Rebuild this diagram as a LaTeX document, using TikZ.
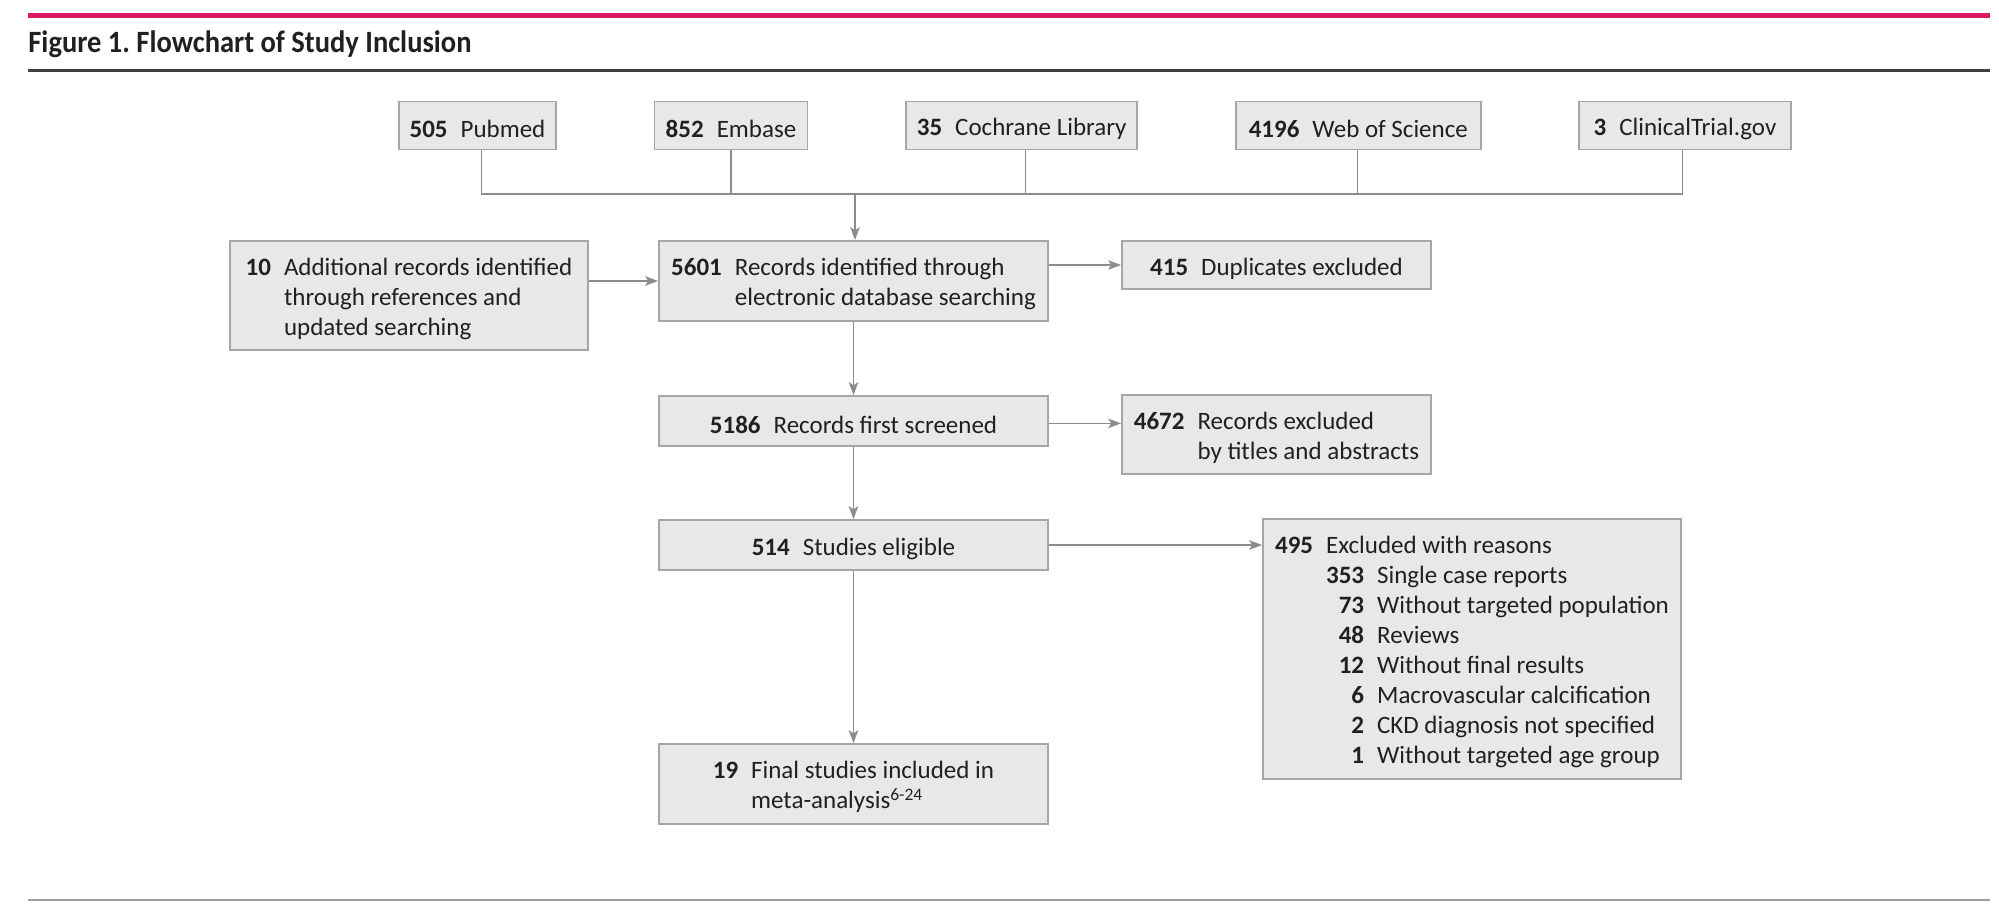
\documentclass[tikz,border=0pt]{standalone}
\usepackage{fontspec}
\setmainfont{Carlito}
\usetikzlibrary{arrows.meta}
\definecolor{jpink}{RGB}{218,26,99}
\definecolor{jdark}{RGB}{64,64,64}
\definecolor{jgrey}{RGB}{155,155,155}
\definecolor{boxfill}{RGB}{230,233,232}
\definecolor{boxline}{RGB}{165,167,167}
\definecolor{conncol}{RGB}{140,140,140}
\definecolor{txt}{RGB}{35,31,32}
\newcommand{\nb}[1]{\textbf{#1}\hspace{6.5pt}}
\newcommand{\dn}[1]{\raisebox{0pt}[\dimexpr\height+3.8pt\relax][\depth]{#1}}
\tikzset{
  fbox/.style={draw=boxline, line width=0.9pt, fill=boxfill, inner sep=0pt,
    text=txt, align=center, font=\fontsize{12.5}{15}\selectfont},
  conn/.style={draw=conncol, line width=0.65pt},
  arr/.style={conn, -{Stealth[length=6.5pt, width=4.8pt, inset=1.6pt]}}
}
\begin{document}
\frenchspacing
\begin{tikzpicture}[x=0.5pt, y=-0.5pt]
\useasboundingbox (0,0) rectangle (1999,915);
% header rules
\draw[jpink, line width=2.75pt] (28,15.5) -- (1990,15.5);
\node[anchor=base west, inner sep=0pt, text=txt, font=\fontsize{15.5}{18}\selectfont\bfseries] (title) at (28,53) {\scalebox{0.92}[1]{Figure 1. Flowchart of Study Inclusion}};
\draw[jdark, line width=1.35pt] (28,70.7) -- (1990,70.7);
\draw[jgrey, line width=1.25pt] (28,900) -- (1990,900);

% top row
\node[fbox, minimum width=78.5pt, minimum height=24pt] (pub) at (477.5,125.5) {\dn{\nb{505}Pubmed}};
\node[fbox, minimum width=76.5pt, minimum height=24pt] (emb) at (731,125.5) {\dn{\nb{852}Embase}};
\node[fbox, minimum width=115.5pt, minimum height=24pt] (coch) at (1021.7,125.5) {\dn{\nb{35}Cochrane Library}};
\node[fbox, minimum width=122.3pt, minimum height=24pt] (wos) at (1358.3,125.5) {\dn{\nb{4196}Web of Science}};
\node[fbox, minimum width=106pt, minimum height=24pt] (clin) at (1685,125.5) {\dn{\nb{3}ClinicalTrial.gov}};
\coordinate (j) at (855,194);

% main column
\node[fbox, minimum width=194.5pt, minimum height=40pt] (rec) at (853.5,281)
  {\dn{\begin{tabular}{@{}l@{\hspace{6.5pt}}l@{}}\textbf{5601} & Records identified through\\ & electronic database searching\end{tabular}}};
\node[fbox, minimum width=179pt, minimum height=54.5pt] (add) at (409,295.5)
  {\dn{\begin{tabular}{@{}l@{\hspace{6.5pt}}l@{}}\textbf{10} & Additional records identified\\ & through references and\\ & updated searching\end{tabular}}};
\node[fbox, minimum width=154.5pt, minimum height=24pt] (dup) at (1276.5,265) {\dn{\nb{415}Duplicates excluded}};
\node[fbox, minimum width=194.5pt, minimum height=25pt] (scr) at (853.5,421) {\dn{\nb{5186}Records first screened}};
\node[fbox, minimum width=154.5pt, minimum height=39.5pt] (exc) at (1276.5,434.5)
  {\dn{\begin{tabular}{@{}l@{\hspace{6.5pt}}l@{}}\textbf{4672} & Records excluded\\ & by titles and abstracts\end{tabular}}};
\node[fbox, minimum width=194.5pt, minimum height=25pt] (eli) at (853.5,545) {\dn{\nb{514}Studies eligible}};
\node[fbox, minimum width=209pt, minimum height=130pt] (rea) at (1472,649)
  {\dn{\begin{tabular}{@{}l@{\hspace{6.5pt}}r@{\hspace{6.5pt}}l@{}}
   \textbf{495} & \multicolumn{2}{@{}l@{}}{Excluded with reasons}\\
   & \textbf{353} & Single case reports\\
   & \textbf{73} & Without targeted population\\
   & \textbf{48} & Reviews\\
   & \textbf{12} & Without final results\\
   & \textbf{6} & Macrovascular calcification\\
   & \textbf{2} & CKD diagnosis not specified\\
   & \textbf{1} & Without targeted age group
   \end{tabular}}};
\node[fbox, minimum width=194.5pt, minimum height=40pt] (fin) at (853.5,784)
  {\dn{\begin{tabular}{@{}l@{\hspace{6.5pt}}l@{}}\textbf{19} & Final studies included in\\ & meta-analysis\textsuperscript{6-24}\end{tabular}}};

% connectors
\draw[conn] ([xshift=2.1pt]pub.south) -- ([xshift=2.1pt]pub.south |- j) -- ([xshift=-1.35pt]clin.south |- j) -- ([xshift=-1.35pt]clin.south);
\draw[conn] (emb.south) -- (emb.south |- j);
\draw[conn] ([xshift=2pt]coch.south) -- ([xshift=2pt]coch.south |- j);
\draw[conn] ([xshift=-0.5pt]wos.south) -- ([xshift=-0.5pt]wos.south |- j);
\draw[arr] (j) -- (j |- rec.north);
\draw[arr] (add.east |- rec.west) -- (rec.west);
\draw[arr] (rec.east |- dup.west) -- (dup.west);
\draw[arr] (rec.south) -- (scr.north);
\draw[arr] ([yshift=-1.2pt]scr.east) -- ([yshift=-1.2pt]scr.east -| exc.west);
\draw[arr] (scr.south) -- (eli.north);
\draw[arr] (eli.east) -- (eli.east -| rea.west);
\draw[arr] (eli.south) -- (fin.north);
\end{tikzpicture}
\end{document}
